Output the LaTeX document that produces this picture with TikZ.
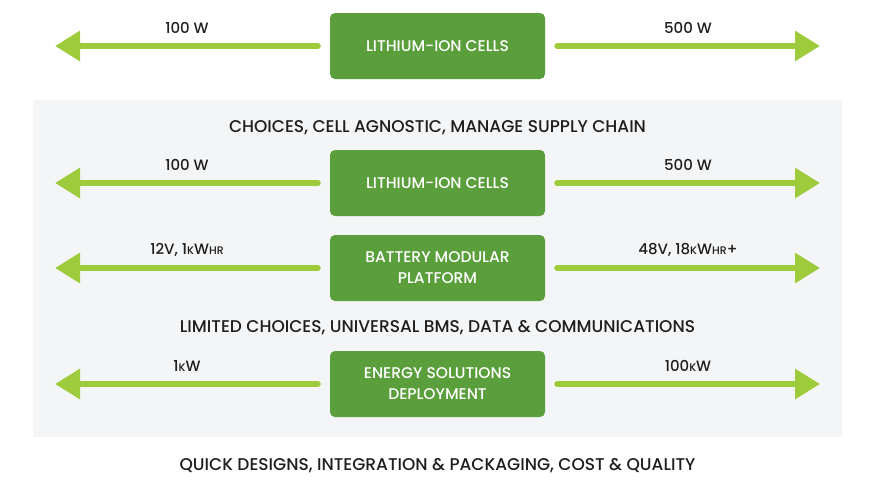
\documentclass[tikz,border=0pt]{standalone}
\usepackage{fontspec}
\setmainfont{Poppins}[UprightFont=* Medium]
\usetikzlibrary{positioning,arrows.meta}
\definecolor{boxgreen}{HTML}{5A9F3C}
\definecolor{arrowgreen}{HTML}{9DCB3C}
\definecolor{panelgray}{HTML}{F4F5F6}
\definecolor{textdark}{HTML}{1E1E1E}
\newcommand{\unitsc}[1]{{\fontsize{11}{12}\selectfont #1}}
\begin{document}
\begin{tikzpicture}
      [
        x=1pt, y=-1pt,
        stage/.style={rectangle, rounded corners=5pt, fill=boxgreen, text=white, minimum width=215pt, minimum height=66pt, align=center, font=\fontsize{15.5}{21}\selectfont},
        flow/.style={draw=arrowgreen, line width=6pt, line cap=round, shorten <=12pt, -{Triangle[length=25pt,width=29pt]}},
        value/.style={text=textdark, font=\fontsize{15}{18}\selectfont},
        caption/.style={text=textdark, font=\fontsize{17}{20}\selectfont}
      ]
      \useasboundingbox (0,0) rectangle (875,499);
      \fill[panelgray] (33,100) rectangle (842,437);
      % boxes
      \node[stage] (cells) at (437.5,46) {LITHIUM-ION CELLS};
      \node[stage] (cellsb) at (437.5,183) {LITHIUM-ION CELLS};
      \node[stage] (modular) at (437.5,268) {BATTERY MODULAR\\PLATFORM};
      \node[stage] (deploy) at (437.5,384) {ENERGY SOLUTIONS\\DEPLOYMENT};
      % captions
      \node[caption] (choices) at (437.5,128) {CHOICES, CELL AGNOSTIC, MANAGE SUPPLY CHAIN};
      \node[caption] (limited) at (437.5,328) {LIMITED CHOICES, UNIVERSAL BMS, DATA \& COMMUNICATIONS};
      \node[caption] (quick) at (437.5,466) {QUICK DESIGNS, INTEGRATION \& PACKAGING, COST \& QUALITY};
      % arrow ends
      \coordinate (cellsl) at (55,46);
      \coordinate (cellsr) at (820,46);
      \coordinate (cellsbl) at (55,183);
      \coordinate (cellsbr) at (820,183);
      \coordinate (modularl) at (55,268);
      \coordinate (modularr) at (820,268);
      \coordinate (deployl) at (55,384);
      \coordinate (deployr) at (820,384);
      % values
      \node[value] (cellsv1) at (187,28) {100 W};
      \node[value] (cellsv2) at (688,28) {500 W};
      \node[value] (cellsbv1) at (187,165) {100 W};
      \node[value] (cellsbv2) at (688,165) {500 W};
      \node[value] (modularv1) at (187,250) {12V, 1\unitsc{K}W\unitsc{HR}};
      \node[value] (modularv2) at (688,250) {48V, 18\unitsc{K}W\unitsc{HR}+};
      \node[value] (deployv1) at (187,366) {1\unitsc{K}W};
      \node[value] (deployv2) at (688,366) {100\unitsc{K}W};
      \draw[flow] (cells.west) -- (cellsl);
      \draw[flow] (cells.east) -- (cellsr);
      \draw[flow] (cellsb.west) -- (cellsbl);
      \draw[flow] (cellsb.east) -- (cellsbr);
      \draw[flow] (modular.west) -- (modularl);
      \draw[flow] (modular.east) -- (modularr);
      \draw[flow] (deploy.west) -- (deployl);
      \draw[flow] (deploy.east) -- (deployr);
    \end{tikzpicture}
\end{document}
